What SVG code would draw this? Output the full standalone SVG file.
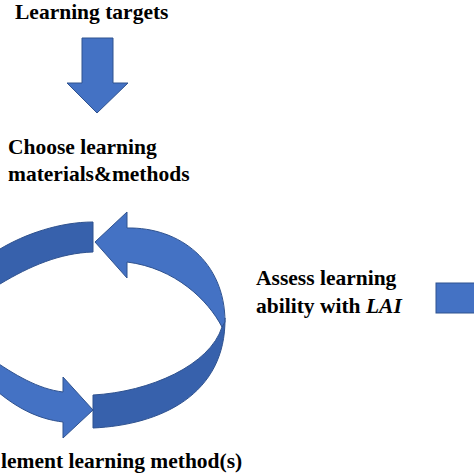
<svg xmlns="http://www.w3.org/2000/svg" width="474" height="474" viewBox="0 0 474 474">
<style>
.t{font-family:"Liberation Serif","Times New Roman",serif;font-weight:bold;font-size:21.5px;fill:#000}
.lt{fill:#4472C4;stroke:#2F528F;stroke-width:1}
.dk{fill:#3761AC;stroke:#2F528F;stroke-width:1}
</style>
<rect width="474" height="474" fill="#fff"/>
<g id="connectors">
<polygon id="down-arrow" class="lt" points="82,38 113,38 113,83 128,83 97,113 67,83 82,83"/>
<rect id="right-arrow" class="lt" x="436" y="283" width="50" height="30"/>
<g id="cycle">
<path class="dk" d="M225,318 C226,395 160,425 93,428 L93,395 C150,392 210,365 222,327 Z"/>
<path class="dk" d="M93,222 C60,222 25,234 0,249 L-20,262 L-20,300 L0,284 C30,266 60,253 93,252 Z"/>
<path class="lt" d="M95,242 L127,212 L127,228 C180,227 225,262 225,322 L222,327 C208,300 175,268 127,262 L127,278 Z"/>
<path class="lt" d="M-10,358 C15,375 38,389 63,392 L63,377 L93,410 L63,438 L63,422 C38,419 15,408 -10,385 Z"/>
</g>
</g>
<g id="node-targets"><text class="t" x="15" y="19">Learning targets</text></g>
<g id="node-choose"><text class="t" x="8" y="154">Choose learning</text><text class="t" x="8" y="181">materials&amp;methods</text></g>
<g id="node-assess"><text class="t" x="256" y="285">Assess learning</text><text class="t" x="256" y="313">ability with <tspan font-style="italic">LAI</tspan></text></g>
<g id="node-implement"><text class="t" x="1" y="468">lement learning method(s)</text></g>
</svg>
